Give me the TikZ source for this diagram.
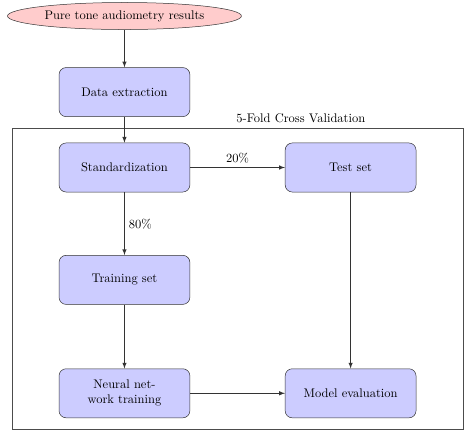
\documentclass[tikz,border=0pt]{standalone}
\usetikzlibrary{shapes.geometric,arrows}
\tikzset{
	block/.style={rectangle, draw=black!80, fill=blue!20, rounded corners=2mm, minimum width=3.68cm, minimum height=1.38cm, text width=3.2cm, align=center},
	startstop/.style={ellipse, draw=black!80, fill=red!20, minimum width=6.58cm, minimum height=0.76cm, inner sep=1pt},
	line/.style={draw=black!80, semithick, -latex}
}
\begin{document}
\begin{tikzpicture}
	\useasboundingbox (0,0) rectangle (13.33,-12.37);
	\draw[black!70, semithick] (0.34,-3.62) rectangle (13.04,-12.08);
	\node at (8.46,-3.32) {5-Fold Cross Validation};
	\node[startstop] (results) at (3.50,-0.45) {Pure tone audiometry results};
	\node[block] (extract) at (3.50,-2.59) {Data extraction};
	\node[block] (standard) at (3.50,-4.71) {Standardization};
	\node[block] (test) at (9.86,-4.71) {Test set};
	\node[block] (train) at (3.50,-7.87) {Training set};
	\node[block] (network) at (3.50,-11.06) {Neural net-\\work training};
	\node[block] (evaluate) at (9.86,-11.06) {Model evaluation};
	\draw[line] (results) -- (extract);
	\draw[line] (extract) -- (standard);
	\draw[line] (standard) -- node[above] {20\%} (test);
	\draw[line] (standard) -- node[right] {80\%} (train);
	\draw[line] (train) -- (network);
	\draw[line] (test) -- (evaluate);
	\draw[line] (network) -- (evaluate);
\end{tikzpicture}
\end{document}
